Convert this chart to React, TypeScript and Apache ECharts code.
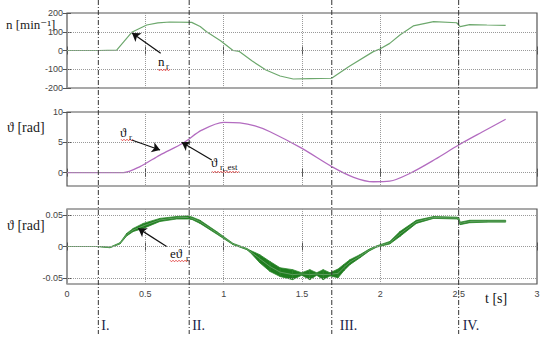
import React, { useEffect, useRef } from "react";
import * as echarts from "echarts";

// ---- data ----
const speedT = [0, 0.2, 0.317, 0.413, 0.509, 0.58, 0.657, 0.796, 0.85, 0.891, 0.98, 1.06, 1.1, 1.18, 1.27, 1.36, 1.444, 1.55, 1.689, 1.8, 1.955, 1.997, 2.06, 2.125, 2.21, 2.34, 2.487, 2.51, 2.57, 2.68, 2.8];
const speedV = [0, 0, 2, 97, 136, 147, 152, 150, 128, 100, 52, 0, -5, -55, -104, -136, -152, -150, -148, -85, -6, 8, 38, 83, 131, 154, 148, 127, 138, 136, 134];

const thetaT = [0, 0.2, 0.36, 0.466, 0.593, 0.742, 0.86, 1.0, 1.104, 1.2, 1.296, 1.5, 1.69, 1.83, 1.955, 2.06, 2.19, 2.35, 2.5, 2.65, 2.8];
const thetaV = [0, 0, 0, 1.0, 2.9, 4.9, 7.0, 8.3, 8.2, 7.7, 6.75, 4.0, 1.0, -0.76, -1.5, -1.4, -0.1, 2.2, 4.56, 6.7, 8.8];

const errT = [0, 0.2, 0.274, 0.338, 0.381, 0.423, 0.487, 0.593, 0.7, 0.774, 0.8, 0.849, 0.955, 1.06, 1.147, 1.168, 1.23, 1.296, 1.36, 1.44, 1.498, 1.55, 1.594, 1.635, 1.679, 1.73, 1.77, 1.806, 1.87, 1.93, 1.976, 2.06, 2.125, 2.23, 2.34, 2.487, 2.5, 2.51, 2.57, 2.68, 2.8];
const errLo = [0, 0, -0.002, 0.004, 0.017, 0.024, 0.029, 0.04, 0.044, 0.044, 0.043, 0.037, 0.02, 0.003, -0.005, -0.009, -0.026, -0.04, -0.048, -0.053, -0.046, -0.053, -0.046, -0.053, -0.047, -0.05, -0.038, -0.029, -0.018, -0.007, -0.001, 0.004, 0.016, 0.037, 0.045, 0.044, 0.043, 0.035, 0.038, 0.039, 0.039];
const errHi = [0, 0, -0.001, 0.006, 0.021, 0.029, 0.037, 0.045, 0.048, 0.049, 0.047, 0.042, 0.024, 0.005, -0.003, -0.006, -0.013, -0.024, -0.034, -0.037, -0.042, -0.037, -0.042, -0.037, -0.042, -0.036, -0.028, -0.021, -0.013, -0.004, 0.001, 0.008, 0.024, 0.042, 0.048, 0.047, 0.046, 0.039, 0.042, 0.042, 0.042];

const phaseT = [0.2, 0.78, 1.69, 2.5];
const phaseLabels = ["I.", "II.", "III.", "IV."];

const xTicks = [0, 0.5, 1, 1.5, 2, 2.5, 3];
const speedTicks = [-200, -100, 0, 100, 200];
const thetaTicks = [0, 5, 10];
const errTicks = [-0.05, 0, 0.05];

// annotation arrows [from, to] in data coords
const nrArrow = [[0.598, -15], [0.415, 93]];
const thArrow = [[0.413, 5.39], [0.594, 3.74]];
const thEstArrow = [[0.924, 2.09], [0.732, 5.0]];
const errArrow = [[0.636, 0], [0.455, 0.029]];

const SERIF = '"Liberation Serif", "DejaVu Serif", serif';
const SANS = '"Liberation Sans", Arial, sans-serif';

const GRIDS = [
  { left: 67, top: 13, width: 470, height: 75 },
  { left: 67, top: 112, width: 470, height: 74 },
  { left: 67, top: 209, width: 470, height: 75 },
];

function zip(a: number[], b: number[]) {
  return a.map((v, i) => [v, b[i]]);
}

const gridLineStyle = { type: "dotted", color: "#999", width: 1 };

function arrow(a: number[][]) {
  return [
    { coord: a[0], symbol: "none", lineStyle: { type: "solid", color: "#111", width: 1.2 } },
    { coord: a[1], symbol: "arrow", symbolSize: 8 },
  ];
}

function squiggle(x1: number, x2: number, y: number) {
  const pts: number[][] = [];
  let k = 0;
  for (let x = x1; x <= x2; x += 1.5) {
    pts.push([x, y + (k % 2 === 0 ? -0.8 : 0.8)]);
    k++;
  }
  return {
    type: "polyline", z: 99, silent: true,
    shape: { points: pts },
    style: { stroke: "#e03030", lineWidth: 0.8, fill: null },
  };
}

export default function App() {
  const ref = useRef<HTMLDivElement>(null);
  useEffect(() => {
    if (!ref.current) return;
    const chart = echarts.init(ref.current, null, { renderer: "svg" });

    const xAxes: any[] = [];
    const yAxes: any[] = [];
    const yConf = [
      { min: -200, max: 200, ticks: speedTicks },
      { min: -2.2, max: 10, ticks: thetaTicks },
      { min: -0.06, max: 0.06, ticks: errTicks },
    ];
    GRIDS.forEach((_, i) => {
      xAxes.push({
        type: "value", gridIndex: i, min: 0, max: 3, interval: 0.5,
        axisLine: { show: false },
        axisTick: { show: true, inside: true, length: 4, lineStyle: { color: "#555" } },
        axisLabel: { show: i === 2, fontSize: 9, color: "#444", fontFamily: SANS, margin: 5 },
        splitLine: { show: true, lineStyle: gridLineStyle },
      });
      xAxes.push({
        type: "value", gridIndex: i, min: 0, max: 3, interval: 0.5, position: "top",
        axisLine: { show: false },
        axisTick: { show: true, inside: true, length: 4, lineStyle: { color: "#555" } },
        axisLabel: { show: false }, splitLine: { show: false },
      });
      const c = yConf[i];
      yAxes.push({
        type: "value", gridIndex: i, min: c.min, max: c.max,
        axisLine: { show: false },
        axisTick: { show: true, inside: true, length: 4, lineStyle: { color: "#555" }, customValues: c.ticks },
        axisLabel: { show: true, fontSize: 9, color: "#444", fontFamily: SANS, margin: 4, customValues: c.ticks },
        splitLine: { show: false },
      });
      yAxes.push({
        type: "value", gridIndex: i, min: c.min, max: c.max, position: "right",
        axisLine: { show: false },
        axisTick: { show: true, inside: true, length: 4, lineStyle: { color: "#555" }, customValues: c.ticks },
        axisLabel: { show: false }, splitLine: { show: false },
      });
    });

    const hLines = (ticks: number[], min: number, max: number) =>
      ticks.filter((v) => v > min && v < max).map((v) => ({ yAxis: v, lineStyle: gridLineStyle }));

    const bandData = errT.map((t, i) => [t, errLo[i], errHi[i]]);
    const midData = errT.map((t, i) => [t, (errLo[i] + errHi[i]) / 2]);

    const option: any = {
      animation: false,
      backgroundColor: "#fff",
      grid: GRIDS.map((g) => ({ ...g, show: true, borderColor: "#555", borderWidth: 1.2, backgroundColor: "transparent" })),
      xAxis: xAxes,
      yAxis: yAxes,
      series: [
        {
          type: "line", xAxisIndex: 0, yAxisIndex: 0, data: zip(speedT, speedV),
          showSymbol: false, lineStyle: { color: "#6da86d", width: 1.2 }, itemStyle: { color: "#6da86d" },
          markLine: {
            silent: true, symbol: ["none", "none"], label: { show: false },
            data: [...hLines(speedTicks, -200, 200), arrow(nrArrow)],
          },
        },
        {
          type: "line", xAxisIndex: 2, yAxisIndex: 2, data: zip(thetaT, thetaV), smooth: 0.3,
          showSymbol: false, lineStyle: { color: "#b36cc0", width: 1.3 }, itemStyle: { color: "#b36cc0" },
          markLine: {
            silent: true, symbol: ["none", "none"], label: { show: false },
            data: [...hLines(thetaTicks, -2.2, 10), arrow(thArrow), arrow(thEstArrow)],
          },
        },
        {
          type: "custom", xAxisIndex: 4, yAxisIndex: 4, data: bandData, silent: true,
          renderItem: (params: any, api: any) => {
            const i = params.dataIndex;
            if (i >= bandData.length - 1) return null;
            const a = bandData[i];
            const b = bandData[i + 1];
            const pts = [
              api.coord([a[0], a[2]]),
              api.coord([b[0], b[2]]),
              api.coord([b[0], b[1]]),
              api.coord([a[0], a[1]]),
            ];
            return {
              type: "polygon",
              shape: { points: pts },
              style: { fill: "#1f7d1f", stroke: "#2a862a", lineWidth: 0.8 },
            };
          },
          markLine: {
            silent: true, symbol: ["none", "none"], label: { show: false },
            data: [...hLines(errTicks, -0.06, 0.06), arrow(errArrow)],
          },
        },
        {
          type: "line", xAxisIndex: 4, yAxisIndex: 4, data: midData,
          showSymbol: false, lineStyle: { color: "#5f9f5f", width: 1 }, itemStyle: { color: "#5f9f5f" },
        },
      ],
    };
    chart.setOption(option);

    const xs = phaseT.map((t) => chart.convertToPixel({ xAxisIndex: 0 }, t) as number);
    const labelOffsets = [3, 3, 8, 4];
    const graphics: any[] = [];
    xs.forEach((x, i) => {
      graphics.push({
        type: "line", z: 100, silent: true,
        shape: { x1: x, y1: 0, x2: x, y2: 334 },
        style: { stroke: "#333", lineWidth: 1, lineDash: [5, 2, 1, 2] },
      });
      graphics.push({
        type: "text", z: 100, x: x + labelOffsets[i], y: 325,
        style: { text: phaseLabels[i], font: `14px ${SERIF}`, fill: "#1c2448", verticalAlign: "middle" },
      });
    });
    const txt = (text: string, x: number, y: number, size: number, fill = "#222") => ({
      type: "text", z: 100, x, y,
      style: { text, font: `${size}px ${SERIF}`, fill, verticalAlign: "middle" },
    });
    graphics.push(txt("n [min⁻¹]", 6, 24, 13));
    graphics.push(txt("ϑ [rad]", 7, 127, 14));
    graphics.push(txt("ϑ [rad]", 7, 225, 14));
    graphics.push(txt("t [s]", 485, 298, 14, "#111"));
    graphics.push(txt("n", 158, 61, 13, "#111"));
    graphics.push(txt("r", 166, 66, 9, "#111"));
    graphics.push(squiggle(158, 170, 70));
    graphics.push(txt("ϑ", 120, 132, 13, "#111"));
    graphics.push(txt("r", 129, 137, 9, "#111"));
    graphics.push(squiggle(121, 133, 140));
    graphics.push(txt("ϑ", 211, 162, 13, "#111"));
    graphics.push(txt("r_est", 220, 167, 9, "#111"));
    graphics.push(squiggle(212, 240, 172));
    graphics.push(txt("eϑ", 170, 253, 13, "#111"));
    graphics.push(txt("r", 186, 258, 9, "#111"));
    graphics.push(squiggle(170, 190, 261));
    chart.setOption({ graphic: graphics });

    return () => chart.dispose();
  }, []);
  return <div ref={ref} style={{ position: "absolute", left: 0, top: 0, width: 550, height: 338 }} />;
}
